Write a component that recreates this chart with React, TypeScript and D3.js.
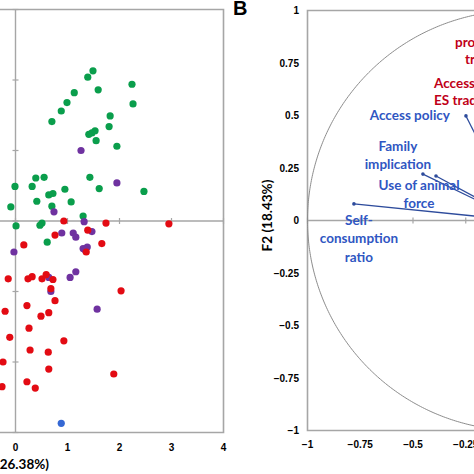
import React from 'react';
import * as d3 from 'd3';

// panel A: observations (F1, F2)
const greenPts: [number, number][] = [
  [1.49, 2.13], [1.39, 2.04], [2.24, 1.94], [1.59, 1.86], [1.13, 1.82], [0.99, 1.68],
  [2.26, 1.66], [0.88, 1.56], [1.82, 1.49], [0.7, 1.41], [1.8, 1.34], [1.53, 1.28],
  [1.47, 1.25], [1.41, 1.23], [1.55, 1.14], [1.95, 1.06], [0.39, 0.61], [0.55, 0.62],
  [1.43, 0.62], [-0.01, 0.49], [0.32, 0.49], [0.95, 0.45], [1.61, 0.46], [2.47, 0.42],
  [0.64, 0.37], [0.72, 0.39], [0.41, 0.28], [1.07, 0.27], [0.7, 0.21], [-0.09, 0.2],
  [1.3, 0.07], [0.51, -0.03], [0.47, -0.06], [0.01, -0.07], [0.61, -0.3],
];
const purplePts: [number, number][] = [
  [1.26, 1.0], [1.95, 0.54], [0.74, 0.13], [1.32, -0.01], [0.89, -0.17], [1.11, -0.17],
  [1.16, -0.23], [1.47, -0.15], [-0.03, -0.44], [1.3, -0.39], [1.38, -0.37], [1.34, -0.41],
  [1.16, -0.72], [1.05, -0.8], [0.64, -0.8], [0.68, -1.0], [1.57, -1.25],
];
const redPts: [number, number][] = [
  [0.93, 0.0], [1.74, -0.03], [2.95, -0.04], [1.39, -0.13], [0.76, -0.2], [0.16, -0.34],
  [1.66, -0.32], [1.36, -0.44], [-0.14, -0.82], [0.24, -0.82], [0.32, -0.79], [0.51, -0.82],
  [0.59, -0.76], [0.72, -0.83], [0.68, -0.96], [2.03, -0.99], [0.76, -1.13], [0.22, -1.2],
  [-0.2, -1.28], [0.64, -1.3], [0.49, -1.35], [0.26, -1.52], [-0.11, -1.65], [0.93, -1.7],
  [0.28, -1.83], [0.63, -1.86], [-0.24, -2.0], [0.64, -2.1], [1.89, -2.17], [0.22, -2.28],
  [-0.26, -2.35], [0.38, -2.37],
];
const bluePts: [number, number][] = [[0.88, -2.87]];

const leftXTicks = [-4, -3, -2, -1, 0, 1, 2, 3, 4];
const leftXLabels = [0, 1, 2, 3, 4];
const leftYTicks = [-3, -2, -1, 0, 1, 2, 3];

// panel B: variable loadings
const varNames = ['Access policy', 'Family implication', 'Use of animal force', 'Self-consumption ratio'];
const varX = [-0.249, -0.453, -0.391, -0.78];
const varY = [0.498, 0.221, 0.212, 0.079];
const redVarNames = ['Access to ES trade', 'production trade'];
const redVarX = [0.12, 0.2];
const redVarY = [0.56, 0.8];

const rightTicks = [-1, -0.75, -0.5, -0.25, 0, 0.25, 0.5, 0.75, 1];
const rightXLabels = [-1, -0.75, -0.5, -0.25];

// label layout (pixel offsets, text lines)
const varLabels = [
  { lines: ['Access policy'], dx: -16, dy: 4, anchor: 'end' },
  { lines: ['Family', 'implication'], dx: -25, dy: -23, anchor: 'middle' },
  { lines: ['Use of animal', 'force'], dx: -17, dy: 14, anchor: 'middle' },
  { lines: ['Self-', 'consumption', 'ratio'], dx: 5, dy: 21, anchor: 'middle' },
];
const redLabels = [
  { lines: ['Access to', 'ES trade'], x: 434, y: 88 },
  { lines: ['production', 'trade'], x: 455, y: 47 },
];

const lineGap = [0, 18, 19];

const W = 474;
const axisGray = '#a6a6a6';
const labelFont = "Lato, 'Open Sans', sans-serif";
const tickFont = "'Liberation Sans', Arial, sans-serif";
const fmt = (t: number) => (t < 0 ? '\u2212' + Math.abs(t) : String(t));

export default function App() {
  const xL = d3.scaleLinear().domain([-4, 4]).range([15.5 - 4 * 52, 15.5 + 4 * 52]);
  const yL = d3.scaleLinear().domain([-3, 3]).range([432.5, 9.5]);
  const xR = d3.scaleLinear().domain([-1, 1]).range([307.5, 729.5]);
  const yR = d3.scaleLinear().domain([-1, 1]).range([430.5, 10.5]);

  const groups = [
    { pts: greenPts, color: '#0a9e4c' },
    { pts: purplePts, color: '#6f32a0' },
    { pts: redPts, color: '#e30b13' },
    { pts: bluePts, color: '#3568d4' },
  ];

  const circle = d3.line<number>()
    .x(t => xR(Math.cos(t)))
    .y(t => yR(Math.sin(t)))(d3.range(0, Math.PI * 2 + 0.01, 0.01));

  const blue = '#2f56c2';
  const vecColor = '#2d4b9c';

  return (
    <svg width={W} height={W} style={{ position: 'absolute', left: 0, top: 0, background: '#fff' }}>
      {/* ---------- panel A ---------- */}
      <g>
        <path d={`M${xL(-4)},${yL(3)}H${xL(4)}V${yL(-3)}H${xL(-4)}Z`} fill="none" stroke={axisGray} strokeWidth={1.6} />
        <line x1={xL(0)} x2={xL(0)} y1={yL(3)} y2={yL(-3)} stroke={axisGray} strokeWidth={1.4} />
        <line x1={xL(-4)} x2={xL(4)} y1={yL(0)} y2={yL(0)} stroke={axisGray} strokeWidth={1.4} />
        {leftXTicks.map(t => (
          <line key={'xt' + t} x1={xL(t)} x2={xL(t)} y1={yL(0) - 3} y2={yL(0) + 3} stroke={axisGray} strokeWidth={1.2} />
        ))}
        {leftYTicks.map(t => (
          <line key={'yt' + t} x1={xL(0) - 3} x2={xL(0) + 3} y1={yL(t)} y2={yL(t)} stroke={axisGray} strokeWidth={1.2} />
        ))}
        {leftXLabels.map(t => (
          <text key={'xl' + t} x={xL(t)} y={451} textAnchor="middle" fontFamily={tickFont} fontWeight="bold" fontSize={10}>
            {fmt(t)}
          </text>
        ))}
        <text x={49} y={469} textAnchor="end" fontFamily={labelFont} fontWeight="bold" fontSize={13.5}>F1 (26.38%)</text>
        {groups.map((g, gi) => g.pts.map((p, i) => (
          <circle key={gi + '-' + i} cx={xL(p[0])} cy={yL(p[1])} r={3.6} fill={g.color} />
        )))}
      </g>

      {/* ---------- panel B ---------- */}
      <g>
        <text x={233} y={15} fontFamily={tickFont} fontWeight="bold" fontSize={20}>B</text>
        <path d={`M${xR(1)},${yR(1)}H${xR(-1)}V${yR(-1)}H${xR(1)}`} fill="none" stroke={axisGray} strokeWidth={1.6} />
        <line x1={xR(-1)} x2={xR(1)} y1={yR(0)} y2={yR(0)} stroke={axisGray} strokeWidth={1.4} />
        <line x1={xR(0)} x2={xR(0)} y1={yR(1)} y2={yR(-1)} stroke={axisGray} strokeWidth={1.4} />
        {rightTicks.map(t => (
          <line key={'rxt' + t} x1={xR(t)} x2={xR(t)} y1={yR(0) - 3} y2={yR(0) + 3} stroke={axisGray} strokeWidth={1.2} />
        ))}
        <path d={circle || ''} fill="none" stroke="#8c8c8c" strokeWidth={1} />
        {rightTicks.map(t => (
          <text key={'ryl' + t} x={299} y={yR(t)} dy="0.35em" textAnchor="end" fontFamily={tickFont} fontWeight="bold" fontSize={10}>
            {fmt(t)}
          </text>
        ))}
        {rightXLabels.map(t => (
          <text key={'rxl' + t} x={xR(t)} y={448} textAnchor="middle" fontFamily={tickFont} fontWeight="bold" fontSize={10}>
            {fmt(t)}
          </text>
        ))}
        <text transform={`translate(272,${yR(0) - 5}) rotate(-90)`} textAnchor="middle" fontFamily={labelFont} fontWeight="bold" fontSize={13.5}>
          F2 (18.43%)
        </text>

        {varNames.map((n, i) => (
          <g key={n}>
            <line x1={xR(0)} y1={yR(0)} x2={xR(varX[i])} y2={yR(varY[i])} stroke={vecColor} strokeWidth={1.3} />
            <circle cx={xR(varX[i])} cy={yR(varY[i])} r={1.8} fill={vecColor} />
          </g>
        ))}
        {redVarNames.map((n, i) => (
          <g key={n}>
            <line x1={xR(0)} y1={yR(0)} x2={xR(redVarX[i])} y2={yR(redVarY[i])} stroke={vecColor} strokeWidth={1.3} />
            <circle cx={xR(redVarX[i])} cy={yR(redVarY[i])} r={1.8} fill={vecColor} />
          </g>
        ))}
        {varLabels.map((l, i) => (
          <text key={'vl' + i} fill={blue} fontFamily={labelFont} fontWeight="bold" fontSize={13.5} textAnchor={l.anchor}>
            {l.lines.map((s, k) => (
              <tspan key={k} x={xR(varX[i]) + l.dx} y={yR(varY[i]) + l.dy + d3.sum(lineGap.slice(0, k + 1))}>{s}</tspan>
            ))}
          </text>
        ))}
        {redLabels.map((l, i) => (
          <text key={'rl' + i} fill="#c00018" fontFamily={labelFont} fontWeight="bold" fontSize={13.5}>
            {l.lines.map((s, k) => (
              <tspan key={k} x={l.x + k * (i === 1 ? 10 : 0)} y={l.y + k * 17}>{s}</tspan>
            ))}
          </text>
        ))}
      </g>
    </svg>
  );
}
